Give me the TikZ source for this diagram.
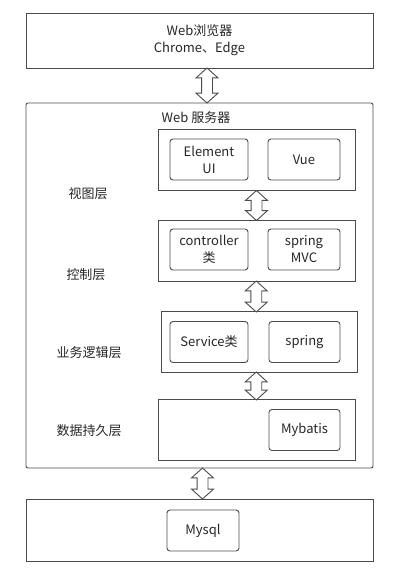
\documentclass[tikz,border=0pt]{standalone}
\usepackage{fontspec}
\setmainfont{Noto Sans CJK SC}
\usetikzlibrary{shapes.arrows,positioning,calc}

\begin{document}
\begin{tikzpicture}[
    x=1pt, y=-1pt,
    every node/.style={font=\fontsize{13}{17}\selectfont, text=black!85},
    tier/.style={draw=black!70, line width=0.9pt, inner sep=0pt},
    layerbox/.style={draw=black!70, line width=0.9pt, inner sep=0pt, minimum width=197pt, minimum height=61pt},
    item/.style={draw=black!70, line width=0.9pt, rounded corners=3pt, align=center, inner sep=0pt, minimum width=78pt, minimum height=41pt},
    link/.style={draw=black!70, line width=0.9pt, fill=white, double arrow, rotate=90, inner sep=0pt, inner ysep=5pt, minimum width=21pt, double arrow head extend=5.5pt, double arrow tip angle=96}
]
\useasboundingbox (0,0) rectangle (405,571);

% browser
\node[tier, minimum width=347pt, minimum height=55pt, align=center] (browser) at (199.5,40.5) {Web浏览器\\Chrome、Edge};

% web server
\node[tier, rounded corners=2pt, minimum width=347pt, minimum height=365pt] (server) at (199.5,285.5) {};
\node (servertitle) at (196,118) {Web 服务器};

% view layer
\node[layerbox] (view) at (256.5,160) {};
\node[item] (element) at (209,159.5) {Element\\UI};
\node[item, minimum width=72pt] (vue) at (304,159.5) {Vue};
\node (viewlabel) at (88,194) {视图层};

% control layer
\node[layerbox] (ctrl) at (256.5,251) {};
\node[item] (controller) at (209,249.5) {controller\\类};
\node[item, minimum width=72pt] (mvc) at (304,249.5) {spring\\MVC};
\node (ctrllabel) at (86,275) {控制层};

% service layer
\node[layerbox, minimum width=196pt] (service) at (259,342) {};
\node[item] (serviceclass) at (209,342) {Service类};
\node[item, minimum width=71pt] (spring) at (304.5,342) {spring};
\node (servicelabel) at (89,353) {业务逻辑层};

% persistence layer
\node[layerbox] (dao) at (256.5,430) {};
\node[item, minimum width=71pt] (mybatis) at (304.5,430) {Mybatis};
\node (daolabel) at (89,431) {数据持久层};

% database
\node[tier, minimum width=347pt, minimum height=62pt] (db) at (199.5,530) {};
\node[item, minimum width=72pt] (mysql) at (203,530.5) {Mysql};

% arrows
\node[link, minimum height=35pt] (a1) at ($(browser.south)!0.5!(server.north)+(7.5,0)$) {};
\node[link, minimum height=30pt] (a2) at ($(view.south)!0.5!(ctrl.north)$) {};
\node[link, minimum height=31pt] (a3) at ($(ctrl.south)!0.5!(service.north)+(-1.5,0)$) {};
\node[link, minimum height=28pt] (a4) at ($(service.south)!0.5!(dao.north)+(-1.5,0)$) {};
\node[link, minimum height=31pt] (a5) at ($(server.south)!0.5!(db.north)+(3,0)$) {};
\end{tikzpicture}
\end{document}
